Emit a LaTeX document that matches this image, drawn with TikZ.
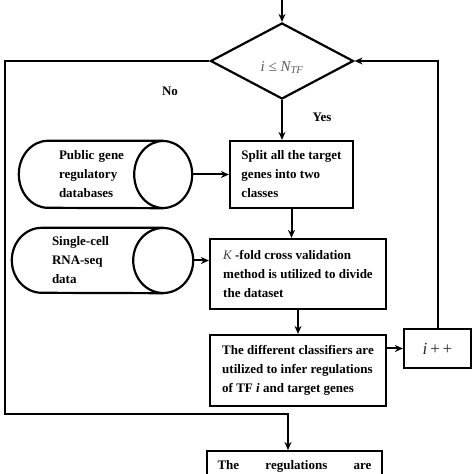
\documentclass[tikz,border=0pt]{standalone}
\usepackage{fontspec}
\setmainfont{Liberation Serif}
\usepackage{tikz}
\usetikzlibrary{shapes,arrows,positioning,calc,arrows.meta}

\tikzset{
  flowline/.style={line width=2pt, -{Stealth[length=8pt,width=7pt]}},
  process/.style={draw, line width=2.2pt, rectangle, align=left, inner xsep=11pt,
                  font=\fontsize{13}{19}\selectfont\bfseries},
  source/.style={rectangle, align=left, inner sep=0pt,
                 font=\fontsize{13}{19}\selectfont\bfseries},
}

% outline of a lying cylinder round a node: name, x radius, y radius
\newcommand{\dbshape}[3]{%
  \draw[line width=2.2pt] ($(#1.north east)+(-#2,0)$) -- ($(#1.north west)+(#2,0)$)
    arc[start angle=90, end angle=270, x radius=#2, y radius=#3]
    -- ($(#1.south east)+(-#2,0)$);
  \draw[line width=2.2pt] ($(#1.east)+(-#2,0)$) ellipse[x radius=#2, y radius=#3];
}

\begin{document}
\begin{tikzpicture}[x=1pt, y=1pt]
    \clip (0,0) rectangle (474,474);

    \coordinate (entry) at (282,474);
    \node[diamond, draw, line width=2.2pt, minimum width=143pt, minimum height=76pt, inner sep=0pt,
          text height=21pt, text depth=0pt, text=black!65,
          font=\fontsize{15}{17}\selectfont\itshape] (cond) at (282,413) {i ≤ N\textsubscript{TF}};

    \node[process, minimum width=123pt, minimum height=67pt] (split) at (291.5,299.5)
        {Split all the target\\genes into two\\classes};
    \node[source, text width=93pt, minimum width=173pt, minimum height=67pt] (pubdb) at (105.5,299.5)
        {Public gene\\regulatory\\databases};
    \dbshape{pubdb}{29}{33.5}

    \node[process, minimum width=176pt, minimum height=70pt] (kfold) at (298,200)
        {{\mdseries\itshape\color{black!75}K} -fold cross validation\\method is utilized to divide\\the dataset};
    \node[source, text width=101pt, minimum width=181pt, minimum height=65pt] (scdata) at (102.5,213.5)
        {Single-cell\\RNA-seq\\data};
    \dbshape{scdata}{30}{32.5}

    \node[process, minimum width=176pt, minimum height=71pt] (classify) at (298,103.5)
        {The different classifiers are\\utilized to infer regulations\\of TF {\itshape i} and target genes};
    \node[process, minimum width=67pt, minimum height=39pt, text=black!85,
          font=\fontsize{17}{19}\selectfont] (incr) at (437.5,125.5) {{\itshape i}\,+\,+};

    \node[process, align=justify, text width=154pt, anchor=north, inner xsep=10.5pt, inner ysep=9pt]
        (result) at (294.5,24) {The\hfill regulations\hfill are};

    \node[font=\fontsize{13}{15}\selectfont\bfseries] (no) at (170,383) {No};
    \node[font=\fontsize{13}{15}\selectfont\bfseries] (yes) at (322,357) {Yes};

    \draw[flowline] (entry) -- (cond.north);
    \draw[flowline] (cond.south) -- (cond.south |- split.north);
    \draw[flowline] (pubdb.east) -- (split.west);
    \draw[flowline] (split.south) -- (split.south |- kfold.north);
    \draw[flowline] (scdata.east) -- (scdata.east -| kfold.west);
    \draw[flowline] (kfold.south) -- (kfold.south |- classify.north);
    \draw[flowline] (classify.east |- incr.west) -- (incr.west);
    \draw[flowline] (incr.north) |- (cond.east);

    % No branch round the left side
    \coordinate (loopcorner) at (5,60);
    \coordinate (merge) at (288,60);
    \draw[flowline] (cond.west) -| (loopcorner) -- (merge) -- (merge |- result.north);
\end{tikzpicture}
\end{document}
